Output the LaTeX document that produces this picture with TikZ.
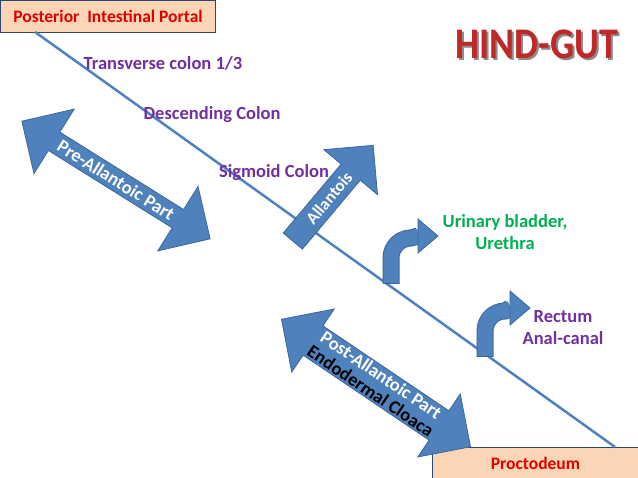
\documentclass[tikz,border=0pt]{standalone}
\usepackage{fontspec}
\setmainfont{Carlito}
\usetikzlibrary{shapes.arrows,calc}
\definecolor{ab}{HTML}{4F81BD}
\definecolor{abd}{HTML}{3A679C}
\definecolor{peach}{HTML}{FBD5B5}
\definecolor{pur}{HTML}{7030A0}
\definecolor{grn}{HTML}{00B050}
\definecolor{rd}{HTML}{E00000}
\definecolor{hg}{RGB}{192,40,40}
\begin{document}
\begin{tikzpicture}[x=1pt,y=-1pt,
  lab/.style={font=\fontsize{18.5}{22}\selectfont\bfseries,align=center},
  box/.style={draw=abd!70!black,fill=peach,line width=1pt,font=\fontsize{17.5}{20}\selectfont\bfseries,text=rd},
  darr/.style={double arrow,draw=abd,fill=ab,line width=0.8pt,minimum width=76pt,double arrow head extend=20pt,inner sep=1pt,text=white,font=\fontsize{18.5}{19}\selectfont\bfseries,align=center},
  sarr/.style={single arrow,draw=abd,fill=ab,line width=0.8pt,minimum width=70pt,single arrow head extend=17pt,inner sep=3pt,text=white,font=\fontsize{17}{19}\selectfont\bfseries}]
\useasboundingbox (0,0) rectangle (638,478);
\node[box,minimum width=215pt,minimum height=32pt,anchor=north west] (pip) at (0,0) {Posterior\ \ Intestinal Portal};
\node[box,minimum width=206pt,minimum height=31pt,anchor=north west] (proc) at (432,447) {Proctodeum};
\coordinate (s) at (35,32);
\coordinate (e) at (615,447);
\draw[ab,line width=2.5pt] (s) -- (e);
\node[font=\fontsize{38}{42}\selectfont\bfseries,text=black!45,yscale=1.15] (hgs) at (539,46) {HIND-GUT};
\node[font=\fontsize{38}{42}\selectfont\bfseries,text=hg,yscale=1.15] (hg) at (537,44) {HIND-GUT};
\node[lab,text=pur] (tc) at (163,63) {Transverse colon 1/3};
\node[lab,text=pur] (dc) at (212,115) {Descending Colon};
\node[lab,text=pur] (sc) at (274,173) {Sigmoid Colon};
\node[lab,text=grn] (ub) at (505,232) {Urinary bladder,\\Urethra};
\node[lab,text=pur] (rc) at (563,328) {Rectum\\Anal-canal};
\node[darr,minimum height=222pt,rotate=-32] (pre) at (116,180) {Pre-Allantoic Part};
\node[sarr,minimum height=125pt,rotate=50] (al) at (329,198) {Allantois};
\node[darr,minimum height=228pt,rotate=-34] (post) at (376,383) {Post-Allantoic Part\\\textcolor{black}{Endodermal Cloaca}};
\coordinate (b1) at (391,284);
\coordinate (t1) at (438,236);
\coordinate (b2) at (485,357);
\coordinate (t2) at (530,308);
\foreach \b/\t in {b1/t1,b2/t2}{
  \draw[abd,line width=17pt] (\b) -- ++(0,-26) arc[start angle=180,end angle=270,radius=20] -- ($(\t)+(-20,0)$);
  \draw[ab,line width=15pt] ($(\b)+(0,-1)$) -- ++(0,-25) arc[start angle=180,end angle=270,radius=20] -- ($(\t)+(-19,0)$);
  \fill[ab,draw=abd,line width=0.8pt] ($(\t)+(-20,-17)$) -- (\t) -- ($(\t)+(-20,17)$) -- cycle;
}
\end{tikzpicture}
\end{document}
